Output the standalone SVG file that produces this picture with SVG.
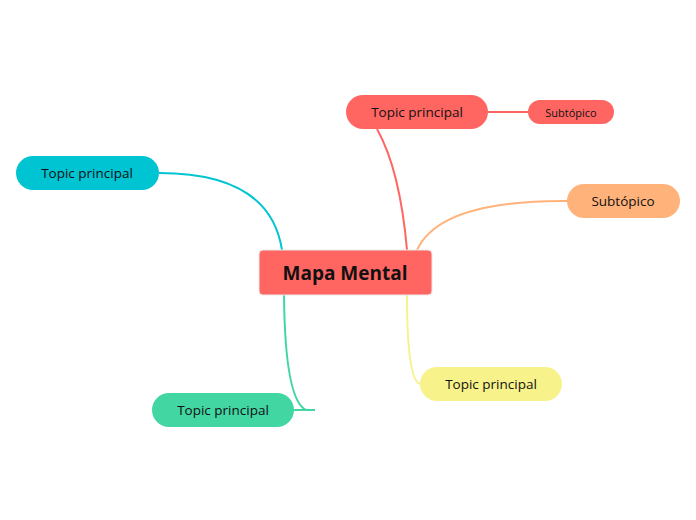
<svg xmlns="http://www.w3.org/2000/svg" width="696" height="520" viewBox="0 0 696 520">
<style>
text{font-family:"Open Sans","Noto Sans",sans-serif;fill:#111;text-anchor:middle;dominant-baseline:central}
.t{font-size:13.5px}.s{font-size:11px}
path{fill:none;stroke-width:2}
</style>
<rect width="696" height="520" fill="#fff"/>
<g id="connectors">
<path d="M377 129 Q400 170 407 250" stroke="#ff6661"/>
<path d="M488 112 L528 112" stroke="#ff6661"/>
<path d="M417 250 Q440 200 567 201" stroke="#ffb37a"/>
<path d="M282 250 Q270 173 159 173" stroke="#00c4d1"/>
<path d="M284 295 Q285 400 306 410 L315 410 M294 410 L315 410" stroke="#42d6a3"/>
<path d="M407 295 Q407 380 420 384" stroke="#f7f28a"/>
</g>
<g id="center"><rect x="259" y="250" width="173" height="45" rx="4" fill="#ff6661" stroke="#e8e8e8"/><text x="345" y="273" font-size="19" font-weight="bold">Mapa Mental</text></g>
<g id="t1"><rect x="346" y="95" width="142" height="34" rx="17" fill="#ff6661"/><text class="t" x="417" y="112">Topic principal</text></g>
<g id="s1"><rect x="528" y="100" width="86" height="24" rx="12" fill="#ff6661"/><text class="s" x="571" y="112">Subtópico</text></g>
<g id="s2"><rect x="567" y="184" width="113" height="34" rx="17" fill="#ffb37a"/><text class="t" x="623" y="201">Subtópico</text></g>
<g id="t2"><rect x="16" y="156" width="143" height="34" rx="17" fill="#00c4d1"/><text class="t" x="87" y="173">Topic principal</text></g>
<g id="t3"><rect x="152" y="393" width="142" height="34" rx="17" fill="#42d6a3"/><text class="t" x="223" y="410">Topic principal</text></g>
<g id="t4"><rect x="420" y="367" width="142" height="34" rx="17" fill="#f7f28a"/><text class="t" x="491" y="384">Topic principal</text></g>
</svg>
